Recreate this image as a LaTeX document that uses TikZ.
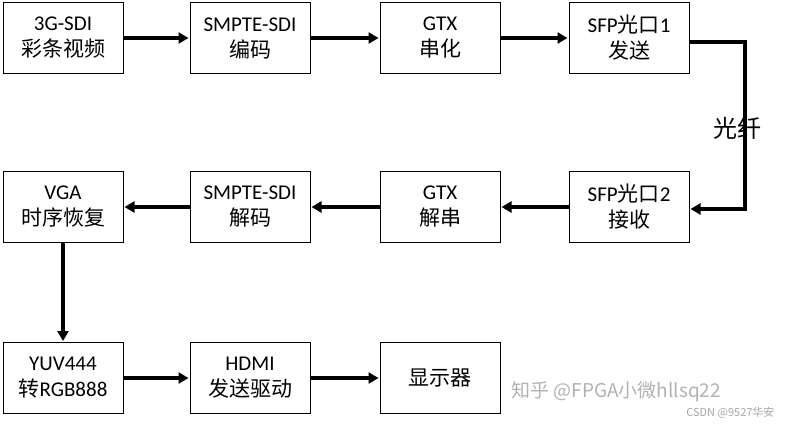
\documentclass[tikz,border=0pt]{standalone}
\usepackage{fontspec}
\setmainfont{Carlito}
\newfontfamily\cjk{Noto Sans CJK SC}
\usetikzlibrary{arrows.meta}
\begin{document}
\begin{tikzpicture}[x=1pt,y=-1pt,
  box/.style={draw,line width=1pt,minimum width=120pt,minimum height=71pt,align=center,font=\fontsize{21}{26}\selectfont,inner sep=0pt},
  arr/.style={-{Triangle[length=10pt,width=11pt]},line width=3.5pt,shorten >=1pt}]
\useasboundingbox (0,0) rectangle (791,431);
\node[box] (a1) at (63,38) {3G-SDI\\{\cjk 彩条视频}};
\node[box] (a2) at (250,38) {SMPTE-SDI\\{\cjk 编码}};
\node[box] (a3) at (440,38) {GTX\\{\cjk 串化}};
\node[box] (a4) at (629,38) {SFP{\cjk 光口}1\\{\cjk 发送}};
\node[box] (b4) at (629,207) {SFP{\cjk 光口}2\\{\cjk 接收}};
\node[box] (b3) at (440,207) {GTX\\{\cjk 解串}};
\node[box] (b2) at (250,207) {SMPTE-SDI\\{\cjk 解码}};
\node[box] (b1) at (63,207) {VGA\\{\cjk 时序恢复}};
\node[box] (c1) at (63,378) {YUV444\\{\cjk 转}RGB888};
\node[box] (c2) at (250,378) {HDMI\\{\cjk 发送驱动}};
\node[box] (c3) at (440,378) {\cjk 显示器};
\draw[arr] (a1) -- (a2); \draw[arr] (a2) -- (a3); \draw[arr] (a3) -- (a4);
\coordinate (t1) at (745,42); \coordinate (t2) at (745,209);
\draw[arr] (a4.east |- t1) -- (t1) -- (t2) -- (b4.east |- t2);
\node[font=\cjk\fontsize{24}{28}\selectfont] (lbl) at (737,128) {光纤};
\draw[arr] (b4) -- (b3); \draw[arr] (b3) -- (b2); \draw[arr] (b2) -- (b1);
\draw[arr] (b1) -- (c1);
\draw[arr] (c1) -- (c2); \draw[arr] (c2) -- (c3);
\node[text=gray!60,font=\cjk\fontsize{19}{22}\selectfont,anchor=west] (w1) at (508,392) {知乎 @FPGA小微hllsq22};
\node[text=gray!70,font=\cjk\fontsize{11}{13}\selectfont,anchor=east] (w2) at (778,413) {CSDN @9527华安};
\end{tikzpicture}
\end{document}
